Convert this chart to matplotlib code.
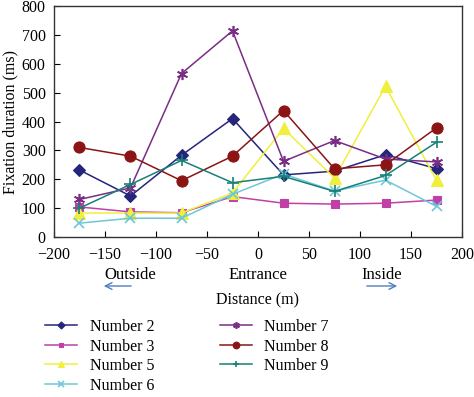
import matplotlib
matplotlib.use("Agg")
import matplotlib.pyplot as plt

plt.rcParams['font.family'] = ['Liberation Serif', 'DejaVu Serif']

distance = [-175, -125, -75, -25, 25, 75, 125, 175]
labels = ["Number 2", "Number 3", "Number 5", "Number 6", "Number 7", "Number 8", "Number 9"]
num2 = [232, 142, 283, 410, 215, 228, 285, 237]
num3 = [104, 87, 84, 140, 117, 114, 117, 128]
num5 = [83, 83, 83, 152, 376, 204, 522, 196]
num6 = [48, 65, 65, 148, 218, 159, 197, 106]
num7 = [130, 170, 566, 714, 262, 334, 270, 260]
num8 = [310, 280, 195, 280, 438, 236, 250, 378]
num9 = [100, 182, 265, 188, 210, 158, 213, 328]
series = [num2, num3, num5, num6, num7, num8, num9]

colors = ["#25257a", "#c040a8", "#f0ef3c", "#6cc8d8", "#7a2d84", "#8b1515", "#188078"]
markers = ["D", "s", "^", "x", (6, 2, 0), "o", "+"]
msizes = [6, 6, 8, 7, 8, 8, 8]

fig = plt.figure(figsize=(4.74, 3.97), dpi=100)
ax = fig.add_axes([54/474, 1-237/397, (462-54)/474, (237-6)/397])

for s, lab, c, m, ms in zip(series, labels, colors, markers, msizes):
    ax.plot(distance, s, color=c, marker=m, markersize=ms, linewidth=1.1,
            label=lab, markeredgewidth=1.2 if m in ("x", "+") or isinstance(m, tuple) else 0.8)

ax.set_xlim(-200, 200)
ax.set_ylim(0, 800)
ax.set_xticks(range(-200, 201, 50))
ax.set_yticks(range(0, 801, 100))
ax.tick_params(direction='in', labelsize=11.5, length=4, top=False, right=False)
ax.tick_params(axis='x', pad=7)
ax.tick_params(axis='y', pad=6)
for sp in ax.spines.values():
    sp.set_color("#333333")
    sp.set_linewidth(1.0)
ax.set_ylabel("Fixation duration (ms)", fontsize=11.5, labelpad=2)

fig.text(130/474, 1-275/397, "Outside", ha='center', va='center', fontsize=12)
fig.text(258/474, 1-275/397, "Entrance", ha='center', va='center', fontsize=12)
fig.text(382/474, 1-275/397, "Inside", ha='center', va='center', fontsize=12)
fig.text(258/474, 1-300/397, "Distance (m)", ha='center', va='center', fontsize=11.5)

arrow_c = "#4f7fbf"
fig.patches.append(matplotlib.patches.FancyArrowPatch(
    (134/474, 1-286/397), (101/474, 1-286/397), transform=fig.transFigure,
    arrowstyle='->', mutation_scale=12, color=arrow_c, lw=1.0))
fig.patches.append(matplotlib.patches.FancyArrowPatch(
    (364/474, 1-286/397), (400/474, 1-286/397), transform=fig.transFigure,
    arrowstyle='->', mutation_scale=12, color=arrow_c, lw=1.0))

leg = fig.legend(loc='upper left', bbox_to_anchor=(45/474, 1-319/397), ncol=2,
                 frameon=False, fontsize=11.5, markerscale=0.6, handlelength=2.0,
                 handletextpad=0.8, labelspacing=0.22, columnspacing=4.1,
                 borderaxespad=0, borderpad=0)

fig.savefig("out.png", dpi=100)
